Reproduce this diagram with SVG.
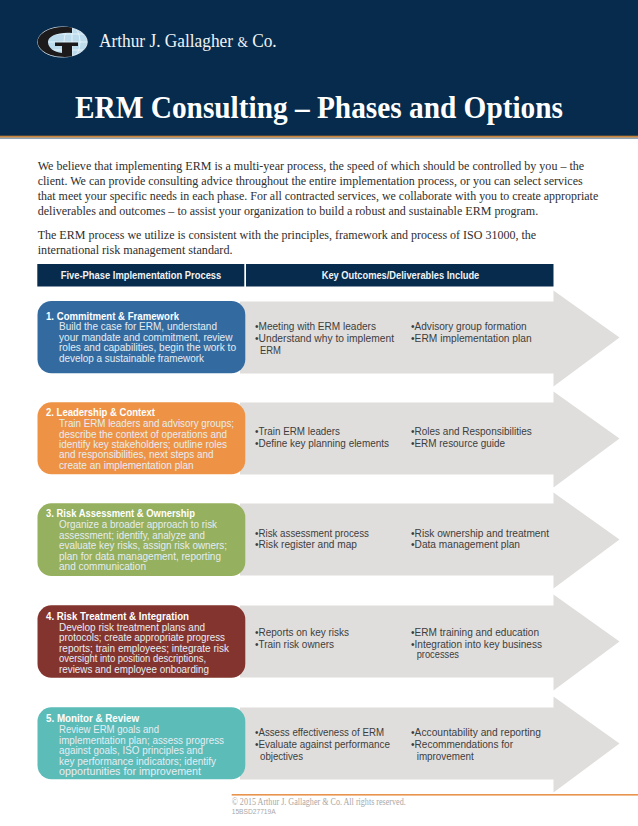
<svg xmlns="http://www.w3.org/2000/svg" width="638" height="826" viewBox="0 0 638 826">
<style>
.s{font-family:"Liberation Sans",Arial,sans-serif}
.b{font-family:"Liberation Serif","Times New Roman",serif;font-size:13px;fill:#2e2e2e}
.h{font-size:10.5px;font-weight:700;fill:#f0f3f6;font-family:"Liberation Sans",Arial,sans-serif}
.t{font-size:10.500px;fill:#e6edf3;font-family:"Liberation Sans",Arial,sans-serif}
.n{font-size:10.500px;font-weight:700;fill:#fff;font-family:"Liberation Sans",Arial,sans-serif}
.o{font-size:10.500px;fill:#3d3d3d;font-family:"Liberation Sans",Arial,sans-serif}
.a{fill:#e0dedc}
</style>
<defs>
<path id="arr" class="a" d="M240 11H553.500V0L619.500 47 553.500 96V83H240Z"/>
<clipPath id="gl"><ellipse cx="62.500" cy="42" rx="24.500" ry="14.800"/></clipPath>
</defs>
<rect width="638" height="136" fill="#062b4c"/>
<rect y="135.700" width="638" height="2" fill="#c8833a"/>
<rect y="137.700" width="638" height="1" fill="#5f7d98"/>
<g id="logo">
<ellipse cx="62.500" cy="42" rx="24.800" ry="15.100" fill="#bcdcee" stroke="#e8eef2" stroke-width="0.800"/>
<g clip-path="url(#gl)" stroke="#f4f9fc" stroke-width="0.700" fill="none">
<path d="M40 34H88M40 50H88M40 42H88"/>
<path d="M72 27V57"/>
<ellipse cx="72" cy="42" rx="8" ry="15"/>
</g>
<path d="M72 27.500C50 25 37.700 34 37.700 42 37.700 50 50 59 72 56.500V46H78V42.500H55V46H62V53C54 52 48 48 48 42 48 36 58 32 72 33Z" fill="#1c1a1a"/>
</g>
<text x="99" y="47.300" font-family="Liberation Serif,serif" font-size="18px" fill="#f0f3f6" textLength="177.700" lengthAdjust="spacingAndGlyphs">Arthur J. Gallagher <tspan font-size="14px">&amp;</tspan> Co.</text>
<text x="75" y="117.500" font-family="Liberation Serif,serif" font-weight="700" font-size="31px" fill="#fff" textLength="488" lengthAdjust="spacingAndGlyphs">ERM Consulting – Phases and Options</text>
<g id="intro">
<text class="b" x="37.700" y="169.500" textLength="546.500" lengthAdjust="spacingAndGlyphs">We believe that implementing ERM is a multi-year process, the speed of which should be controlled by you – the</text>
<text class="b" x="37.700" y="184.500" textLength="545" lengthAdjust="spacingAndGlyphs">client. We can provide consulting advice throughout the entire implementation process, or you can select services</text>
<text class="b" x="37.700" y="199.500" textLength="560.500" lengthAdjust="spacingAndGlyphs">that meet your specific needs in each phase. For all contracted services, we collaborate with you to create appropriate</text>
<text class="b" x="37.700" y="214.500" textLength="500.500" lengthAdjust="spacingAndGlyphs">deliverables and outcomes – to assist your organization to build a robust and sustainable ERM program.</text>
<text class="b" x="37.700" y="238.500" textLength="498.500" lengthAdjust="spacingAndGlyphs">The ERM process we utilize is consistent with the principles, framework and process of ISO 31000, the</text>
<text class="b" x="37.700" y="253.500" textLength="194.800" lengthAdjust="spacingAndGlyphs">international risk management standard.</text>
</g>
<g id="header">
<rect x="37.300" y="264" width="207" height="22.500" fill="#062b4c"/>
<rect x="246" y="264" width="307.500" height="22.500" fill="#062b4c"/>
<text class="h" x="60.700" y="279.300" textLength="160.600" lengthAdjust="spacingAndGlyphs">Five-Phase Implementation Process</text>
<text class="h" x="321.700" y="279.300" textLength="157.600" lengthAdjust="spacingAndGlyphs">Key Outcomes/Deliverables Include</text>
</g>
<g id="connectors">
<use href="#arr" y="290.500"/><use href="#arr" y="391.500"/><use href="#arr" y="492.500"/><use href="#arr" y="594.500"/><use href="#arr" y="696.500"/>
</g>
<g id="phase1">
<rect x="37.500" y="301" width="207.800" height="72.300" rx="14" fill="#336ba1"/>
<text class="n" x="46" y="319.500" textLength="133" lengthAdjust="spacingAndGlyphs">1. Commitment &amp; Framework</text>
<text class="t" x="59" y="330" textLength="158" lengthAdjust="spacingAndGlyphs">Build the case for ERM, understand</text>
<text class="t" x="59" y="340.500" textLength="173.500" lengthAdjust="spacingAndGlyphs">your mandate and commitment, review</text>
<text class="t" x="59" y="351" textLength="177" lengthAdjust="spacingAndGlyphs">roles and capabilities, begin the work to</text>
<text class="t" x="59" y="361.700" textLength="145" lengthAdjust="spacingAndGlyphs">develop a sustainable framework</text>
<text class="o" x="255" y="330" textLength="121" lengthAdjust="spacingAndGlyphs">•Meeting with ERM leaders</text>
<text class="o" x="255" y="342" textLength="139" lengthAdjust="spacingAndGlyphs">•Understand why to implement</text>
<text class="o" x="260" y="353.500" textLength="21" lengthAdjust="spacingAndGlyphs">ERM</text>
<text class="o" x="411" y="330" textLength="115.700" lengthAdjust="spacingAndGlyphs">•Advisory group formation</text>
<text class="o" x="411" y="342" textLength="120.700" lengthAdjust="spacingAndGlyphs">•ERM implementation plan</text>
</g>
<g id="phase2">
<rect x="37.500" y="402.300" width="207.800" height="72" rx="14" fill="#ee9345"/>
<text class="n" x="46" y="416" textLength="109" lengthAdjust="spacingAndGlyphs">2. Leadership &amp; Context</text>
<text class="t" x="59" y="427" textLength="175" lengthAdjust="spacingAndGlyphs">Train ERM leaders and advisory groups;</text>
<text class="t" x="59" y="437.500" textLength="168" lengthAdjust="spacingAndGlyphs">describe the context of operations and</text>
<text class="t" x="59" y="448" textLength="168" lengthAdjust="spacingAndGlyphs">identify key stakeholders; outline roles</text>
<text class="t" x="59" y="458" textLength="154.500" lengthAdjust="spacingAndGlyphs">and responsibilities, next steps and</text>
<text class="t" x="59" y="469" textLength="134.700" lengthAdjust="spacingAndGlyphs">create an implementation plan</text>
<text class="o" x="255" y="435" textLength="85" lengthAdjust="spacingAndGlyphs">•Train ERM leaders</text>
<text class="o" x="255" y="447" textLength="134" lengthAdjust="spacingAndGlyphs">•Define key planning elements</text>
<text class="o" x="411" y="435" textLength="120.700" lengthAdjust="spacingAndGlyphs">•Roles and Responsibilities</text>
<text class="o" x="411" y="447" textLength="94" lengthAdjust="spacingAndGlyphs">•ERM resource guide</text>
</g>
<g id="phase3">
<rect x="37.500" y="503.300" width="207.800" height="72.700" rx="14" fill="#95b05e"/>
<text class="n" x="46" y="517.300" textLength="149" lengthAdjust="spacingAndGlyphs">3. Risk Assessment &amp; Ownership</text>
<text class="t" x="59" y="528" textLength="158" lengthAdjust="spacingAndGlyphs">Organize a broader approach to risk</text>
<text class="t" x="59" y="538.500" textLength="146" lengthAdjust="spacingAndGlyphs">assessment; identify, analyze and</text>
<text class="t" x="59" y="549" textLength="168" lengthAdjust="spacingAndGlyphs">evaluate key risks, assign risk owners;</text>
<text class="t" x="59" y="559.500" textLength="162" lengthAdjust="spacingAndGlyphs">plan for data management, reporting</text>
<text class="t" x="59" y="570" textLength="87" lengthAdjust="spacingAndGlyphs">and communication</text>
<text class="o" x="255" y="536.500" textLength="114" lengthAdjust="spacingAndGlyphs">•Risk assessment process</text>
<text class="o" x="255" y="548" textLength="102" lengthAdjust="spacingAndGlyphs">•Risk register and map</text>
<text class="o" x="411" y="536.500" textLength="138" lengthAdjust="spacingAndGlyphs">•Risk ownership and treatment</text>
<text class="o" x="411" y="548" textLength="109" lengthAdjust="spacingAndGlyphs">•Data management plan</text>
</g>
<g id="phase4">
<rect x="37.500" y="605.300" width="207.800" height="72.500" rx="14" fill="#84342e"/>
<text class="n" x="46" y="620" textLength="143" lengthAdjust="spacingAndGlyphs">4. Risk Treatment &amp; Integration</text>
<text class="t" x="59" y="630.500" textLength="146" lengthAdjust="spacingAndGlyphs">Develop risk treatment plans and</text>
<text class="t" x="59" y="641" textLength="166" lengthAdjust="spacingAndGlyphs">protocols; create appropriate progress</text>
<text class="t" x="59" y="651.500" textLength="170" lengthAdjust="spacingAndGlyphs">reports; train employees; integrate risk</text>
<text class="t" x="59" y="662" textLength="147" lengthAdjust="spacingAndGlyphs">oversight into position descriptions,</text>
<text class="t" x="59" y="672.500" textLength="150" lengthAdjust="spacingAndGlyphs">reviews and employee onboarding</text>
<text class="o" x="255" y="635.700" textLength="94" lengthAdjust="spacingAndGlyphs">•Reports on key risks</text>
<text class="o" x="255" y="648" textLength="79" lengthAdjust="spacingAndGlyphs">•Train risk owners</text>
<text class="o" x="411" y="635.700" textLength="128" lengthAdjust="spacingAndGlyphs">•ERM training and education</text>
<text class="o" x="411" y="648" textLength="131" lengthAdjust="spacingAndGlyphs">•Integration into key business</text>
<text class="o" x="416.700" y="657.500" textLength="42.300" lengthAdjust="spacingAndGlyphs">processes</text>
</g>
<g id="phase5">
<rect x="37.500" y="707.300" width="207.800" height="72" rx="14" fill="#5bbcb8"/>
<text class="n" x="46" y="722" textLength="93" lengthAdjust="spacingAndGlyphs">5. Monitor &amp; Review</text>
<text class="t" x="59" y="733" textLength="100" lengthAdjust="spacingAndGlyphs">Review ERM goals and</text>
<text class="t" x="59" y="743.500" textLength="165" lengthAdjust="spacingAndGlyphs">implementation plan; assess progress</text>
<text class="t" x="59" y="754" textLength="144" lengthAdjust="spacingAndGlyphs">against goals, ISO principles and</text>
<text class="t" x="59" y="764.500" textLength="157" lengthAdjust="spacingAndGlyphs">key performance indicators; identify</text>
<text class="t" x="59" y="775" textLength="142" lengthAdjust="spacingAndGlyphs">opportunities for improvement</text>
<text class="o" x="255" y="735.700" textLength="129" lengthAdjust="spacingAndGlyphs">•Assess effectiveness of ERM</text>
<text class="o" x="255" y="748" textLength="135" lengthAdjust="spacingAndGlyphs">•Evaluate against performance</text>
<text class="o" x="260" y="759.500" textLength="43" lengthAdjust="spacingAndGlyphs">objectives</text>
<text class="o" x="411" y="735.700" textLength="130" lengthAdjust="spacingAndGlyphs">•Accountability and reporting</text>
<text class="o" x="411" y="748" textLength="102" lengthAdjust="spacingAndGlyphs">•Recommendations for</text>
<text class="o" x="416.700" y="759.500" textLength="57" lengthAdjust="spacingAndGlyphs">improvement</text>
</g>
<rect x="231.700" y="794" width="406.300" height="1.600" fill="#e8934e"/>
<text x="231.700" y="804.700" font-family="Liberation Serif,serif" font-size="9.500px" fill="#a8a8a8" textLength="174" lengthAdjust="spacingAndGlyphs">© 2015 Arthur J. Gallagher &amp; Co. All rights reserved.</text>
<text x="231.700" y="814" class="s" font-size="7px" fill="#a8a8a8" textLength="44" lengthAdjust="spacingAndGlyphs">15BSD27719A</text>
</svg>
